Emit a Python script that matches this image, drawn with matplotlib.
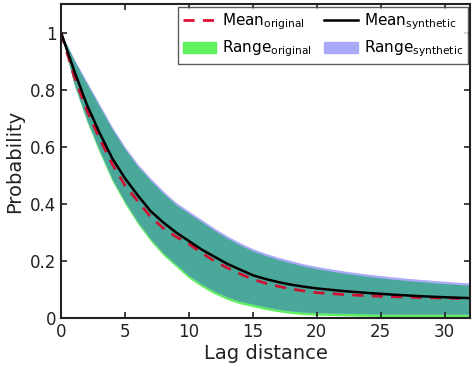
import matplotlib
matplotlib.use("Agg")
import matplotlib.pyplot as plt
import numpy as np
from matplotlib.patches import Patch
from matplotlib.lines import Line2D

lag = [0, 1, 2, 3, 4, 5, 6, 7, 8, 9, 10, 11, 12, 13, 14, 15, 16, 17, 18, 19, 20, 22, 24, 26, 28, 30, 32]
mean_synthetic = [1, .87, .75, .65, .56, .49, .43, .375, .335, .30, .27, .24, .215, .19, .17, .15, .137, .126, .117, .110, .104, .095, .088, .082, .077, .073, .070]
mean_original = [1, .85, .73, .63, .54, .465, .41, .355, .315, .285, .26, .228, .2, .176, .155, .136, .122, .111, .102, .095, .089, .083, .078, .075, .072, .070, .068]
upper_synthetic = [1, .91, .83, .75, .67, .60, .54, .49, .445, .405, .375, .345, .315, .288, .264, .243, .227, .213, .201, .19, .181, .166, .154, .144, .136, .129, .123]
upper_original = [1, .905, .822, .742, .662, .592, .532, .482, .437, .397, .367, .337, .307, .28, .256, .235, .219, .205, .193, .182, .173, .158, .146, .136, .128, .121, .115]
lower_original = [1, .82, .69, .58, .48, .40, .33, .27, .22, .18, .14, .11, .085, .065, .05, .04, .03, .022, .016, .012, .01, .008, .006, .005, .005, .005, .005]
lower_synthetic = [1, .825, .697, .588, .488, .408, .338, .278, .228, .188, .149, .119, .094, .074, .059, .049, .039, .031, .025, .021, .019, .017, .015, .014, .014, .014, .014]

green = '#5ef05e'
blue = '#aaaaf8'
teal = '#4aa89a'

fig = plt.figure(figsize=(4.74, 3.72), dpi=100)
ax = fig.add_axes([0.129, 0.145, 0.863, 0.843])

x = np.array(lag)
lo = np.maximum(lower_original, lower_synthetic)
hi = np.minimum(upper_original, upper_synthetic)
ax.fill_between(x, lower_original, upper_original, color=green, lw=0)
ax.fill_between(x, lower_synthetic, upper_synthetic, color=blue, lw=0)
ax.fill_between(x, lo, hi, color=teal, lw=0)
ax.plot(x, mean_original, '--', color='#cc1133', lw=2, dashes=(4, 3))
ax.plot(x, mean_synthetic, '-', color='black', lw=1.8)

ax.set_xlim(0, 32)
ax.set_ylim(0, 1.1)
ax.set_xticks([0, 5, 10, 15, 20, 25, 30])
ax.set_yticks([0, 0.2, 0.4, 0.6, 0.8, 1])
ax.set_yticklabels(['0', '0.2', '0.4', '0.6', '0.8', '1'])
ax.tick_params(direction='in', top=True, right=True, labelsize=12, length=4, width=1.2, colors='#222222', labelcolor='#222222')
for s in ax.spines.values():
    s.set_linewidth(1.5)
    s.set_color('#222222')
ax.set_xlabel('Lag distance', fontsize=14, color='#222222', labelpad=2)
ax.set_ylabel('Probability', fontsize=14, color='#222222', labelpad=4)

handles = [Line2D([], [], ls='--', color='#dd1133', lw=2, dashes=(4, 3)),
           Patch(color=green),
           Line2D([], [], ls='-', color='black', lw=1.8),
           Patch(color=blue)]
labels = [r'Mean$_{\mathrm{original}}$', r'Range$_{\mathrm{original}}$',
          r'Mean$_{\mathrm{synthetic}}$', r'Range$_{\mathrm{synthetic}}$']
leg = ax.legend(handles, labels, ncol=2, loc='upper right', fontsize=11,
                frameon=True, fancybox=False, edgecolor='#333333',
                borderaxespad=0.15, handlelength=2.2, handletextpad=0.4,
                columnspacing=0.8, labelspacing=0.45, borderpad=0.3)
leg.get_frame().set_linewidth(1.0)

fig.savefig('out.png', dpi=100)
